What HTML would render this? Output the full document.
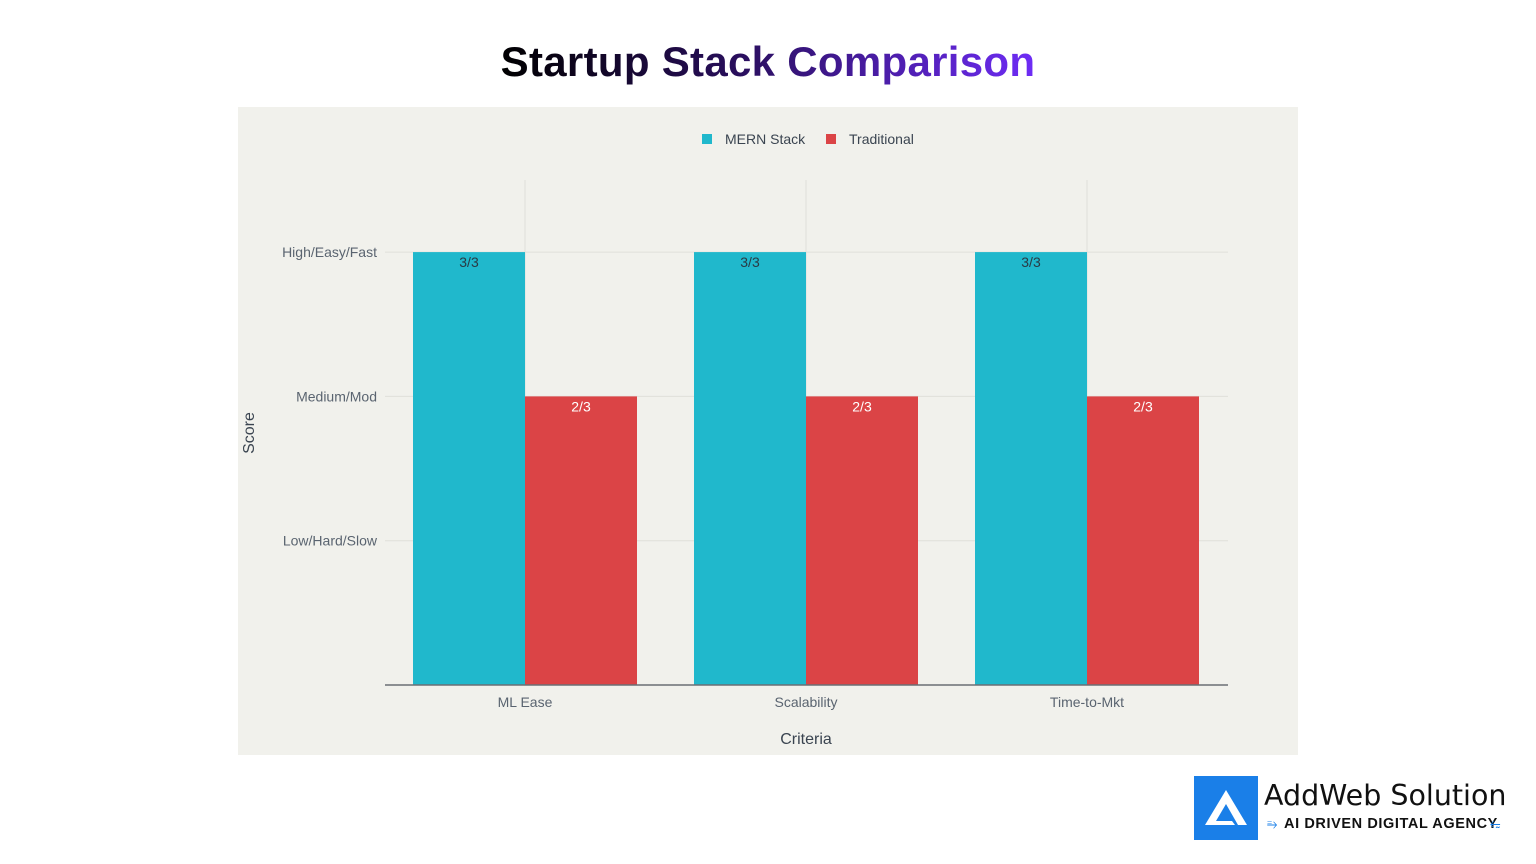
<!DOCTYPE html>
<html><head><meta charset="utf-8"><style>
body{margin:0;width:1536px;height:864px;background:#fff;overflow:hidden;font-family:"Liberation Sans",sans-serif;position:relative}
#title{position:absolute;left:0;width:1536px;top:38px;text-align:center;font-size:42px;font-weight:bold;letter-spacing:0.3px}
#title span{background:linear-gradient(90deg,#000 0%,#2a0f5e 45%,#6e2cf6 100%);-webkit-background-clip:text;background-clip:text;color:transparent}
#chart{position:absolute;left:0;top:0}
#logo{position:absolute;left:1194px;top:776px}
</style></head><body>
<div id="title"><span>Startup Stack Comparison</span></div>
<svg id="chart" width="1536" height="864">
<rect x="238" y="107" width="1060" height="648" fill="#f1f1ec"/>
<g id="grid"></g><g id="bars"></g><g id="labels"></g>
<g font-size="14" fill="#3a4450">
<rect x="702" y="134" width="10" height="10" fill="#20b8cc"/>
<text x="725" y="144">MERN Stack</text>
<rect x="826" y="134" width="10" height="10" fill="#db4446"/>
<text x="849" y="144">Traditional</text>
</g>
<text x="806" y="744" text-anchor="middle" font-size="16" fill="#3a4450">Criteria</text>
<text transform="translate(254,433) rotate(-90)" text-anchor="middle" font-size="16" fill="#3a4450">Score</text>
</svg>
<svg id="logo" width="330" height="66">
<rect x="0" y="0" width="64" height="64" fill="#1a7fe8"/>
<path d="M11 49 L32 14 L53 49 L44 49 L32 28 L22 45 L38 45 L41 49 Z" fill="#fff"/>
<text x="70" y="29" font-size="28.5" fill="#111" font-family="DejaVu Sans,sans-serif">AddWeb Solution</text>
<text x="90" y="52" font-size="14.5" font-weight="bold" fill="#111" letter-spacing="0.6">AI DRIVEN DIGITAL AGENCY</text>
<text x="73" y="52" font-size="13" fill="#1a7fe8">⥱</text><text x="296" y="52" font-size="13" fill="#1a7fe8">⥳</text>
</svg>
<script>
const categories=["ML Ease","Scalability","Time-to-Mkt"];
const mern=[3,3,3];
const traditional=[2,2,2];
const mernLabels=["3/3","3/3","3/3"];
const tradLabels=["2/3","2/3","2/3"];
const yTickVals=[1,2,3];
const yTickLabels=["Low/Hard/Slow","Medium/Mod","High/Easy/Fast"];
const NS="http://www.w3.org/2000/svg";
const x0=385,x1=1228,yBase=685,unit=144.3,catW=281,barW=112;
const xc=i=>525+i*catW;
const y=v=>yBase-v*unit;
function mk(tag,attrs,parent,txt){const e=document.createElementNS(NS,tag);for(const k in attrs)e.setAttribute(k,attrs[k]);if(txt!==undefined)e.textContent=txt;document.getElementById(parent).appendChild(e);return e;}
yTickVals.forEach((v,i)=>{
 const l=mk("line",{x1:x0,x2:x1,y1:y(v),y2:y(v),stroke:"#e0e0da","stroke-width":1},"grid");
 
 
 const t=mk("text",{x:377,y:y(v)+5,"text-anchor":"end","font-size":14,fill:"#5a6470"},"labels",yTickLabels[i]);
 
 
});
categories.forEach((c,i)=>{
 const g=mk("line",{x1:xc(i),x2:xc(i),y1:180,y2:yBase,stroke:"#e0e0da","stroke-width":1},"grid");
 
 
 const b1=mk("rect",{x:xc(i)-barW,y:y(mern[i]),width:barW,height:yBase-y(mern[i]),fill:"#20b8cc"},"bars");
 
 
 const b2=mk("rect",{x:xc(i),y:y(traditional[i]),width:barW,height:yBase-y(traditional[i]),fill:"#db4446"},"bars");
 
 
 const l1=mk("text",{x:xc(i)-barW/2,y:y(mern[i])+15,"text-anchor":"middle","font-size":14,fill:"#2a3a44"},"labels",mernLabels[i]);
 
 
 const l2=mk("text",{x:xc(i)+barW/2,y:y(traditional[i])+15,"text-anchor":"middle","font-size":14,fill:"#fff"},"labels",tradLabels[i]);
 
 
 const t=mk("text",{x:xc(i),y:707,"text-anchor":"middle","font-size":14,fill:"#5a6470"},"labels",c);
 
 
});
const ax=mk("line",{x1:x0,x2:x1,y1:yBase,y2:yBase,stroke:"#6a6f75","stroke-width":1.5},"labels");


</script>
</body></html>
